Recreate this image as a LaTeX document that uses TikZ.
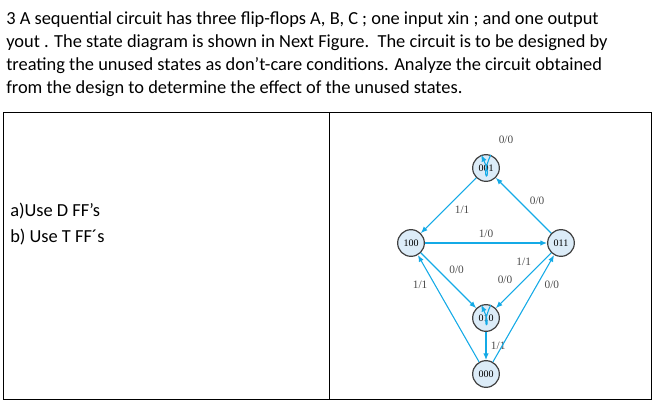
\documentclass[tikz,border=0pt]{standalone}
\usepackage{fontspec}
\setmainfont{Carlito}
\newfontfamily\serifst{Liberation Serif}
\usetikzlibrary{arrows.meta}
\definecolor{edge}{RGB}{20,170,230}
\definecolor{fillst}{RGB}{220,236,248}
\begin{document}
\begin{tikzpicture}[x=0.75pt,y=-0.75pt,
  st/.style={circle,draw=black!75,line width=0.9pt,fill=fillst,minimum size=20pt,inner sep=0pt,font=\serifst\fontsize{7.5}{8}\selectfont},
  tr/.style={draw=edge,line width=0.8pt,-{Latex[length=5pt,width=4pt]}},
  lb/.style={font=\serifst\fontsize{8.5}{9}\selectfont,text=black!70},
  txt/.style={anchor=base west,inner sep=0pt,font=\fontsize{13.8}{15}\selectfont}]
\useasboundingbox (0,0) rectangle (665,408);
\node[txt] (l1) at (6,24) {3 A sequential circuit has three flip-flops A, B, C ; one input xin ; and one output};
\node[txt] (l2) at (6,47) {yout . The state diagram is shown in Next Figure.\ \ The circuit is to be designed by};
\node[txt] (l3) at (6,70) {treating the unused states as don’t-care conditions. Analyze the circuit obtained};
\node[txt] (l4) at (6,93) {from the design to determine the effect of the unused states.};
\draw[line width=0.7pt] (3,112) rectangle (651,399);
\draw[line width=0.7pt] (329,112) -- (329,399);
\node[txt] (a) at (10,216) {a)Use D FF’s};
\node[txt] (b) at (10,242) {b) Use T FF´s};
\node[st] (s001) at (486,168) {001};
\node[st] (s100) at (411,243) {100};
\node[st] (s011) at (561,243) {011};
\node[st] (s010) at (486,318) {010};
\node[st] (s000) at (486,374) {000};
\draw[tr] (s001.70) .. controls +(-65:-30) and +(-115:-30) .. (s001.110);
\node[lb] at (506,140) {0/0};
\draw[tr] (s001) -- node[lb,pos=0.45,below right=-1pt] {1/1} (s100);
\draw[tr] (s011) -- node[lb,pos=0.45,above right=-1pt] {0/0} (s001);
\draw[tr] (s100) -- node[lb,above,pos=0.5] {1/0} (s011);
\draw[tr] (s100) -- node[lb,pos=0.45,above right=-1pt] {0/0} (s010);
\draw[tr] (s011) -- node[lb,pos=0.3,above left=-1pt] {1/1} (s010);
\draw[tr] (s010.70) .. controls +(-65:-28) and +(-115:-28) .. (s010.110);
\node[lb] at (505,280) {0/0};
\draw[tr] (s010) -- node[lb,right] {1/1} (s000);
\draw[tr] (s000) -- node[lb,pos=0.72,left=2pt] {1/1} (s100);
\draw[tr] (s000) -- node[lb,pos=0.72,right=2pt] {0/0} (s011);
\end{tikzpicture}
\end{document}
